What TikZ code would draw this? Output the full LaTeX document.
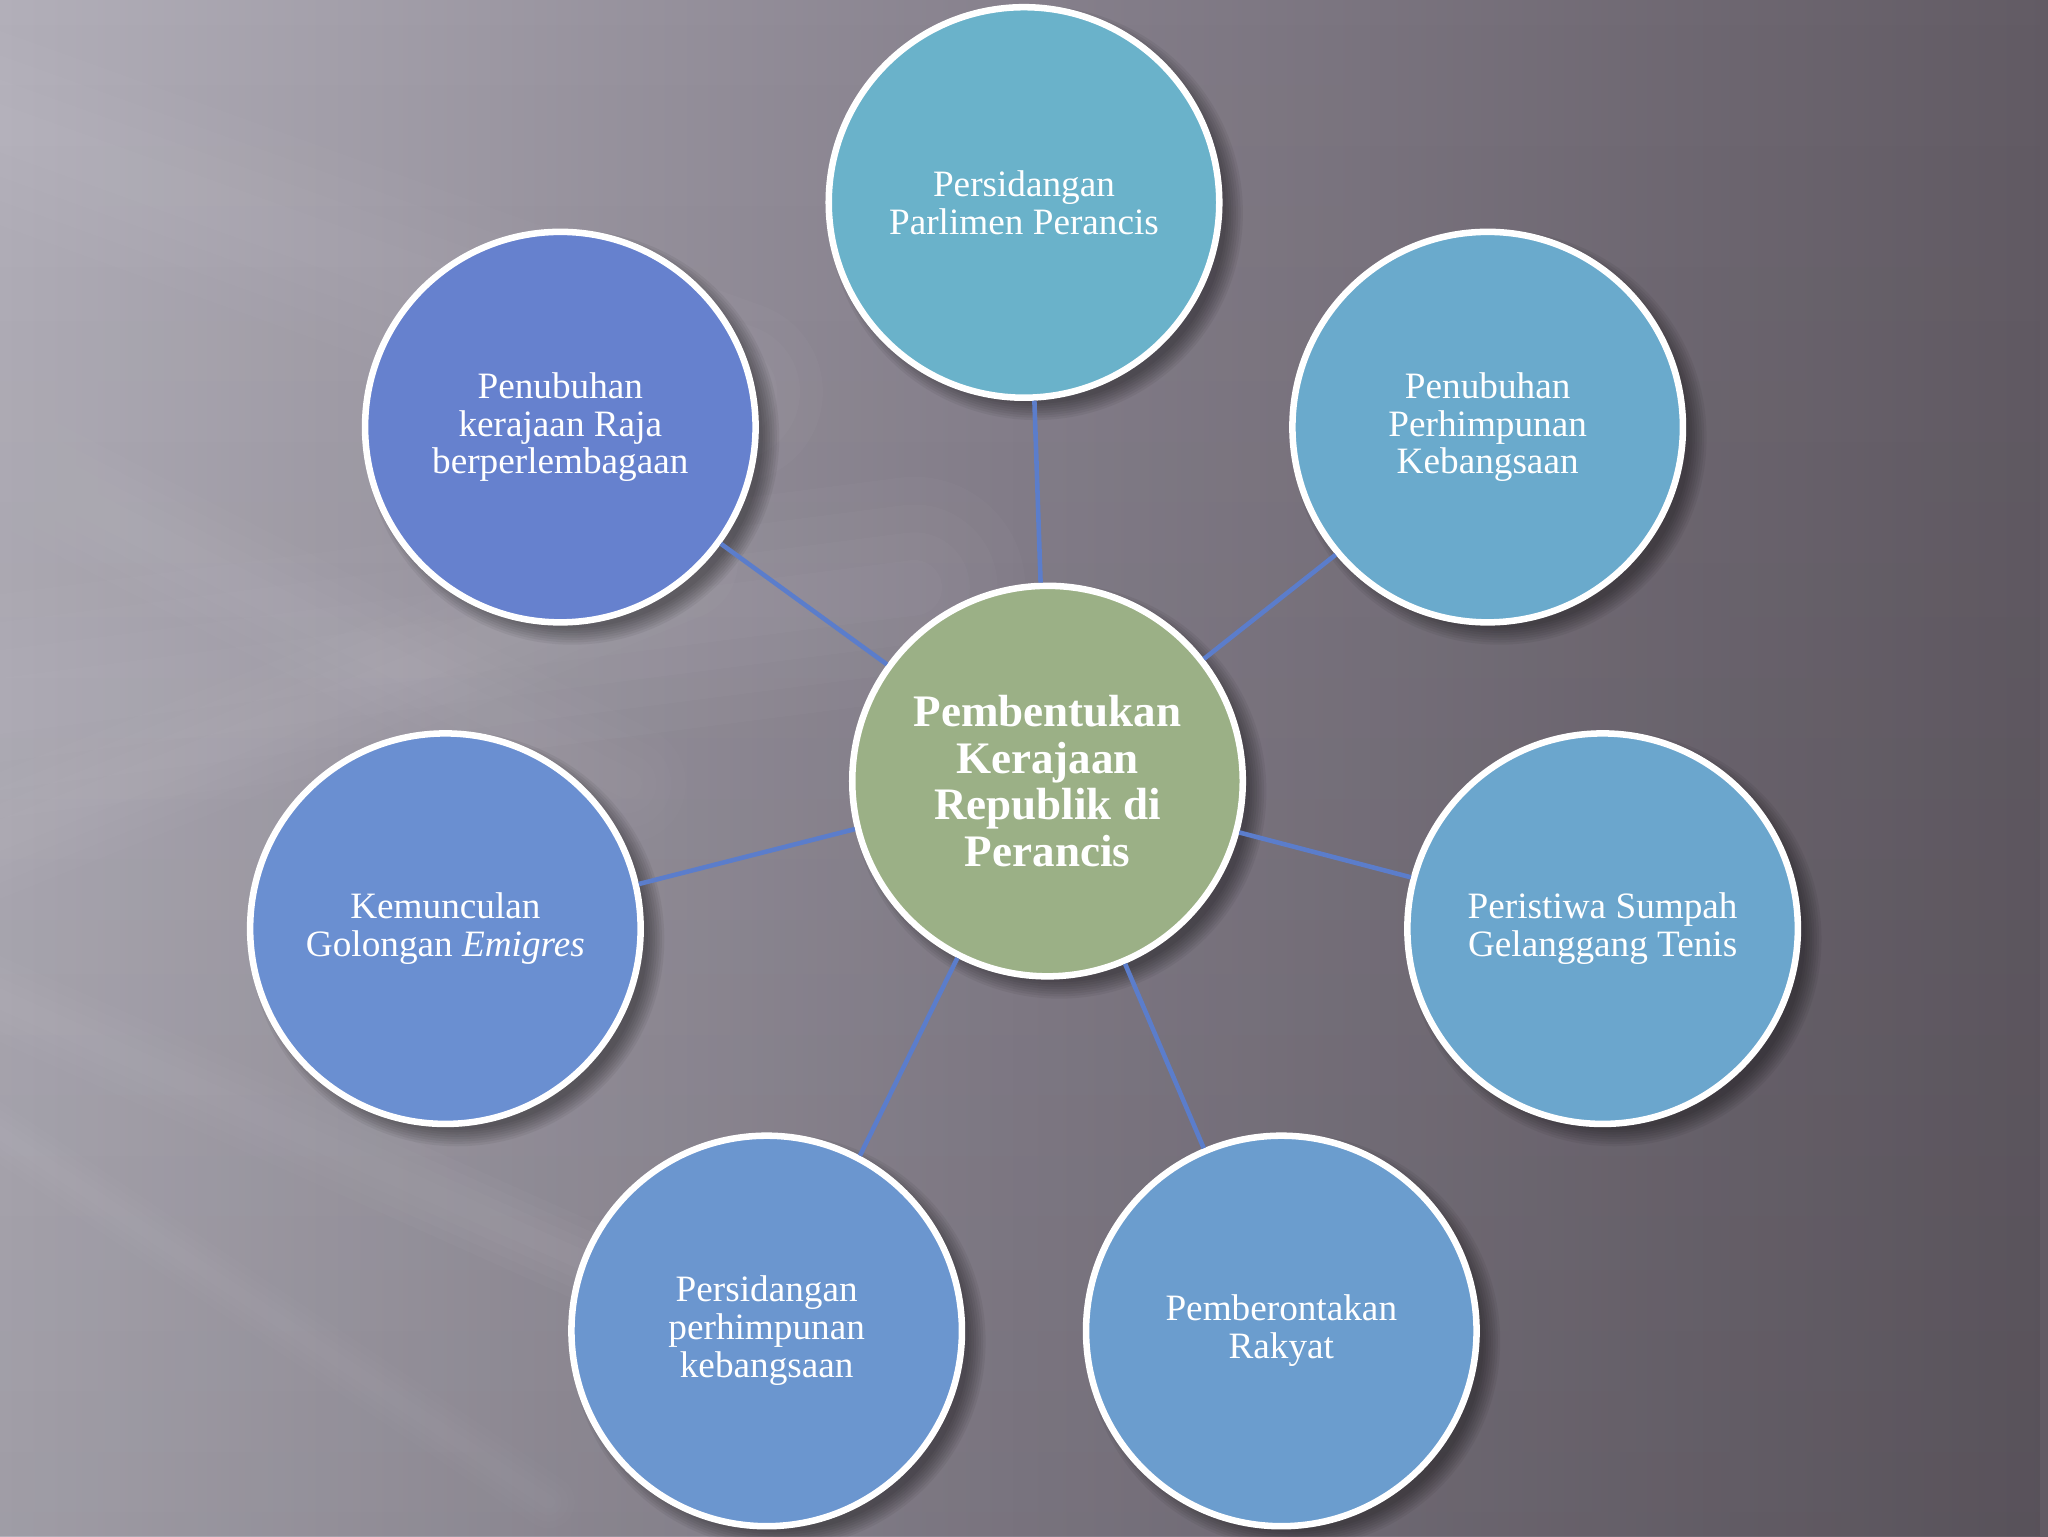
\documentclass[tikz,border=0pt]{standalone}
\usepackage{fontspec}
\setmainfont{Liberation Serif}
\usetikzlibrary{fadings}
\definecolor{bgL}{HTML}{B2AFB9}
\definecolor{bgM}{HTML}{86808C}
\definecolor{bgR}{HTML}{625B64}
\definecolor{ray}{HTML}{D4D2DA}
\definecolor{lnk}{HTML}{5B7DCB}
\definecolor{cT}{HTML}{6AB2CA}
\definecolor{cTL}{HTML}{6681CE}
\definecolor{cTR}{HTML}{6AAACC}
\definecolor{cL}{HTML}{6A8FD1}
\definecolor{cR}{HTML}{6BA6CD}
\definecolor{cBL}{HTML}{6B96CF}
\definecolor{cBR}{HTML}{6B9DCE}
\definecolor{cC}{HTML}{9BB086}
\tikzset{
  bub/.style={circle, draw=white, line width=5pt, minimum size=299pt, inner sep=0pt,
    text=white, align=center, font=\fontsize{28.5}{29}\selectfont},
  hub/.style={bub, font=\bfseries\fontsize{34.5}{35.5}\selectfont},
  lnkline/.style={draw=lnk, line width=3.5pt}
}
\newcommand\mysh[2]{\foreach \k in {0,...,7}{\fill[black,opacity=0.055] (#1+9,#2+8) circle ({146+1.8*\k});}}
\newcommand\softray[6]{\foreach \k in {1,...,4}{\pgfmathsetmacro\w{#5*\k/4}\draw[ray,opacity=#6,line width=\w pt,line cap=round] (#1,#2) -- (#3,#4);}}
\begin{document}
\begin{tikzpicture}[x=1pt,y=-1pt]
\useasboundingbox (0,0) rectangle (1568,1176);
% background
\shade[left color=bgL, right color=bgR, middle color=bgM] (0,0) rectangle (1568,1176);
\fill[black,opacity=0.10,path fading=north] (0,0) rectangle (1568,1176);
\softray{-150}{560}{700}{450}{170}{0.03}
\softray{-150}{700}{520}{430}{90}{0.03}
\softray{-100}{300}{480}{600}{90}{0.025}
\softray{-50}{80}{560}{300}{140}{0.03}
\softray{-100}{720}{480}{980}{60}{0.03}
\softray{-100}{800}{420}{1150}{40}{0.025}
% shadows
\mysh{784}{155}
\mysh{429}{327}
\mysh{1139}{327}
\mysh{341}{711}
\mysh{1227}{711}
\mysh{587}{1019}
\mysh{981}{1019}
\mysh{802}{598}
% nodes
\node[bub, fill=cT]  (t)  at (784,155)  {Persidangan\\Parlimen Perancis};
\node[bub, fill=cTL] (tl) at (429,327)  {Penubuhan\\kerajaan Raja\\berperlembagaan};
\node[bub, fill=cTR] (tr) at (1139,327) {Penubuhan\\Perhimpunan\\Kebangsaan};
\node[bub, fill=cL]  (l)  at (341,711)  {Kemunculan\\Golongan \emph{Emigres}};
\node[bub, fill=cR]  (r)  at (1227,711) {Peristiwa Sumpah\\Gelanggang Tenis};
\node[bub, fill=cBL] (bl) at (587,1019) {Persidangan\\perhimpunan\\kebangsaan};
\node[bub, fill=cBR] (br) at (981,1019) {Pemberontakan\\Rakyat};
\node[hub, fill=cC]  (c)  at (802,598)  {Pembentukan\\Kerajaan\\Republik di\\Perancis};
% connectors
\draw[lnkline] (c.92)   -- (t.-87);
\draw[lnkline] (c.144)  -- (tl.-36);
\draw[lnkline] (c.38.6) -- (tr.-140.4);
\draw[lnkline] (c.194.5)-- (l.13.9);
\draw[lnkline] (c.-15.1)-- (r.165.4);
\draw[lnkline] (c.243.4)-- (bl.62.4);
\draw[lnkline] (c.-67.1)-- (br.113.9);
\end{tikzpicture}
\end{document}
